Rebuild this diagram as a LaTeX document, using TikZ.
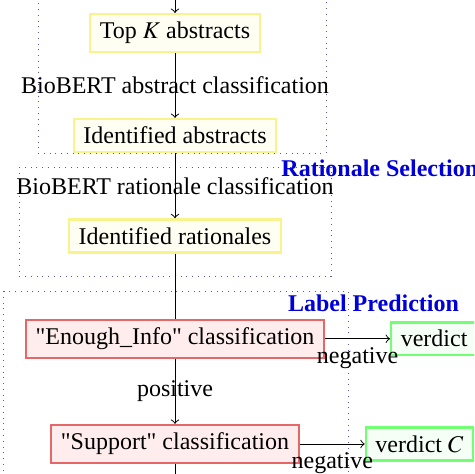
\documentclass[tikz,border=0pt]{standalone}
\usepackage{mathptmx}
\usepackage{fontspec}
\setmainfont{Liberation Serif}
\usetikzlibrary{positioning}

\begin{document}
\begin{tikzpicture}[x=0.4167pt,y=-0.4167pt,node distance=27pt,
						yellowbox/.style={draw=yellow!45!white!97!black,fill=yellow!5,line width=1pt,inner xsep=4pt},
						redbox/.style={draw=red!55!white!90!black,fill=red!7,line width=1pt,inner xsep=4pt},
						greenbox/.style={draw=green!55,fill=green!4,line width=1pt,inner xsep=4pt},
						stagebox/.style={draw=blue!30!gray,dotted,thin},
						stagetitle/.style={text=blue!85!black,font=\bfseries}]
		\clip[use as bounding box] (0,0) rectangle (474,474);

		\draw[stagebox] (38,-60) rectangle (326,153);
		\draw[stagebox] (19,167) rectangle (331,276);
		\draw[stagebox] (3,291) rectangle (348,540);

		\node[yellowbox]				(0)	at (175,33)	{Top $K$ abstracts};
		\node[yellowbox,below=of 0]	(1)	{Identified abstracts};
		\node[yellowbox,below=of 1]	(2)	{Identified rationales};
		\node[redbox,below=of 2]		(3)	{\textquotedbl Enough\_Info\textquotedbl{} classification};
		\node[redbox,below=of 3]		(4)	{\textquotedbl Support\textquotedbl{} classification};
		\node[greenbox,right=of 3]		(5)	{verdict};
		\node[greenbox,right=of 4]		(6)	{verdict $C$};
		\coordinate (in)	at (175,-40);
		\coordinate (out)	at (175,520);

		\node[stagetitle,anchor=west]	(rs)	at (273,168)	{Rationale Selection};
		\node[stagetitle]				(lp)	at (373.5,303)	{Label Prediction};

		\draw[->] (in) -- (0);
		\draw[->] (0) -- node{BioBERT abstract classification} (1);
		\draw[->] (1) -- node{BioBERT rationale classification} (2);
		\draw (2) -- (3);
		\draw[->] (3) -- node{positive} (4);
		\draw[->] (3) -- node[below]{negative} (5);
		\draw[->] (4) -- node[below]{negative} (6);
		\draw (4) -- (out);
	\end{tikzpicture}
\end{document}
